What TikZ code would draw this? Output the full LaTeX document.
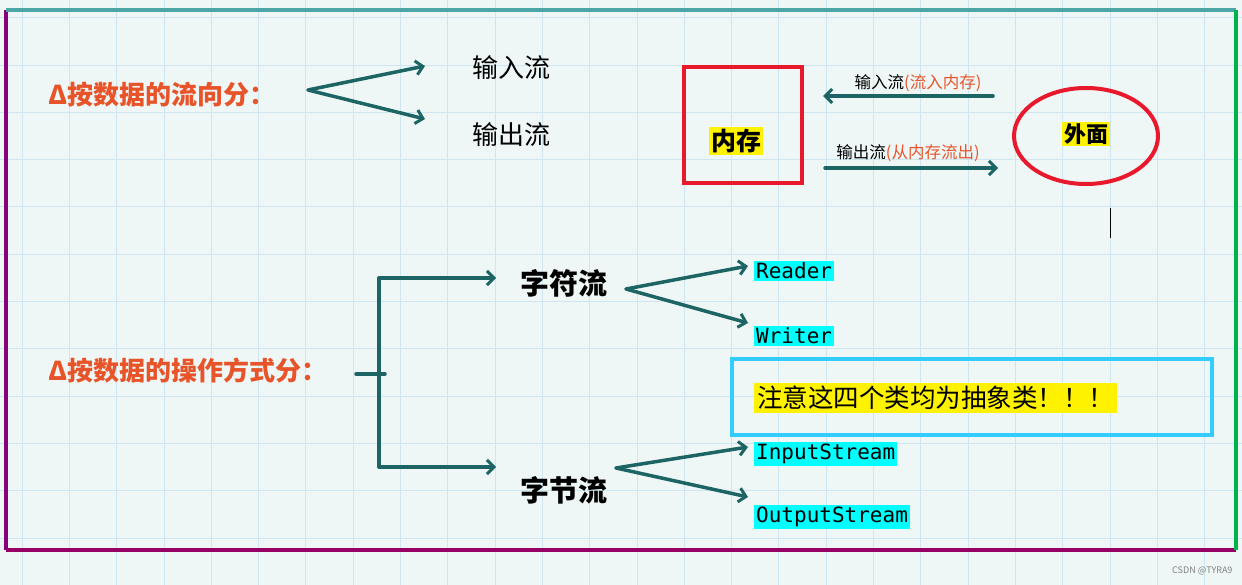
\documentclass[tikz,border=0pt]{standalone}
\usepackage{fontspec}
\setmainfont{Noto Sans CJK SC}
\newfontfamily\cjk{Noto Sans CJK SC}
\newfontfamily\mono{DejaVu Sans Mono}
\usetikzlibrary{arrows.meta,shapes.geometric}
\definecolor{bg}{HTML}{EEF7F5}
\definecolor{gridc}{HTML}{CDE6F2}
\definecolor{teal2}{HTML}{1D6464}
\definecolor{orng}{HTML}{E8542A}
\definecolor{redc}{HTML}{E8192C}
\definecolor{cyanc}{HTML}{00FFFF}
\definecolor{bluec}{HTML}{33CCFF}
\begin{document}
\begin{tikzpicture}[x=1pt,y=-1pt,
  conn/.style={teal2,line width=3.5pt,line cap=round,-{Straight Barb[length=7pt,width=14pt,line width=3pt]}},
  seg/.style={teal2,line width=3.5pt,line cap=round},
  head/.style={text=orng,font=\cjk\bfseries\fontsize{26}{28}\selectfont,inner sep=0pt,anchor=west},
  plain/.style={font=\cjk\fontsize{26}{28}\selectfont,inner sep=0pt},
  bold/.style={font=\cjk\bfseries\fontsize{29}{31}\selectfont,inner sep=0pt},
  cls/.style={fill=cyanc,font=\mono\fontsize{21}{23}\selectfont,inner sep=2pt,anchor=west},
  small/.style={font=\cjk\fontsize{16.5}{18}\selectfont,inner sep=0pt}]
\useasboundingbox (0,0) rectangle (1242,585);
\fill[bg] (0,0) rectangle (1242,585);
\begin{scope}
\clip (0,0) rectangle (1242,585);
\foreach \i in {0,...,26} \draw[gridc,line width=0.8pt] (22+47.3*\i,0) -- (22+47.3*\i,585);
\foreach \i in {0,...,12} \draw[gridc,line width=0.8pt] (0,17.7+47.3*\i) -- (1242,17.7+47.3*\i);
\end{scope}
\draw[line width=4pt,draw=purple!70!blue] (6,10) -- (6,550);
\draw[line width=4pt,draw=teal!70] (6,10) -- (1236,10);
\draw[line width=4pt,draw=purple!80!blue] (6,550) -- (1236,550);
\draw[line width=4pt,draw=teal!60!green] (1236,10) -- (1236,550);

% top section
\node[head] (h1) at (48,95) {Δ按数据的流向分：};
\coordinate (v1) at (308,90);
\node[plain,anchor=west] (in1) at (472,68) {输入流};
\node[plain,anchor=west] (out1) at (472,135) {输出流};
\coordinate (t1) at (425,66);
\coordinate (t2) at (425,119);
\draw[conn] (v1) -- (t1);
\draw[conn] (v1) -- (t2);

\node[draw=redc,line width=4pt,minimum width=118pt,minimum height=116pt] (mem) at (743,125) {};
\node[bold,fill=yellow,inner sep=2pt,font=\cjk\bfseries\fontsize{25}{27}\selectfont] (memt) at (736,141) {内存};
\node[draw=redc,line width=4pt,ellipse,minimum width=144pt,minimum height=96pt] (ext) at (1086,136) {};
\node[bold,fill=yellow,inner sep=2pt,font=\cjk\bfseries\fontsize{22}{24}\selectfont] (extt) at (1086,134) {外面};
\coordinate (a1s) at (993,96);
\coordinate (a1e) at (823,96);
\coordinate (a2s) at (825,168);
\coordinate (a2e) at (998,168);
\draw[conn] (a1s) -- (a1e);
\draw[conn] (a2s) -- (a2e);
\node[small,anchor=south] (l1) at (918,92) {输入流\textcolor{orng}{(流入内存)}};
\node[small,anchor=south] (l2) at (908,162) {输出流\textcolor{orng}{(从内存流出)}};
\draw[black,line width=1pt] (1110,208) -- (1110,238);

% bottom section
\node[head] (h2) at (48,370) {Δ按数据的操作方式分：};
\coordinate (b0) at (356,374);
\coordinate (bt) at (379,278);
\coordinate (bb) at (379,467);
\draw[seg] (b0) -- (385,374);
\draw[seg] (bt) -- (bb);
\node[bold,anchor=west] (zf) at (520,283) {字符流};
\node[bold,anchor=west] (zj) at (520,490) {字节流};
\draw[conn] (bt) -- (496,278);
\draw[conn] (bb) -- (496,467);

\node[cls] (rd) at (754,271) {Reader};
\node[cls] (wr) at (754,336) {Writer};
\coordinate (c1) at (626,289);
\draw[conn] (c1) -- (748,266);
\draw[conn] (c1) -- (748,323);

\node[cls] (is) at (754,454) {InputStream};
\node[cls] (os) at (754,517) {OutputStream};
\coordinate (c2) at (616,468);
\draw[conn] (c2) -- (748,447);
\draw[conn] (c2) -- (748,497);

\node[draw=bluec,line width=4pt,minimum width=480pt,minimum height=76pt] (note) at (972,397) {};
\node[fill=yellow,font=\cjk\fontsize{25.5}{27}\selectfont,inner sep=3pt,anchor=west] (nt) at (754,398) {注意这四个类均为抽象类！！！};

\node[font=\fontsize{9}{10}\selectfont,text=gray,anchor=east] (wm) at (1236,571) {CSDN @TYRA9};
\end{tikzpicture}
\end{document}
